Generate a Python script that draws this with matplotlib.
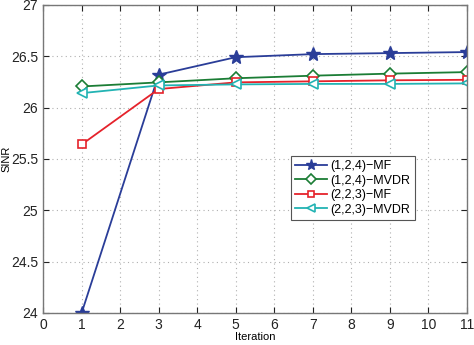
import matplotlib
matplotlib.use("Agg")
import matplotlib.pyplot as plt

iters = [1, 3, 5, 7, 9, 11]
mf_124 = [24.0, 26.32, 26.49, 26.52, 26.53, 26.54]
mvdr_124 = [26.205, 26.245, 26.285, 26.31, 26.33, 26.345]
mf_223 = [25.64, 26.18, 26.245, 26.255, 26.265, 26.27]
mvdr_223 = [26.14, 26.215, 26.225, 26.23, 26.23, 26.235]
labels = ["(1,2,4)\u2212MF", "(1,2,4)\u2212MVDR", "(2,2,3)\u2212MF", "(2,2,3)\u2212MVDR"]
xticks = list(range(0, 12))
yticks = [24, 24.5, 25, 25.5, 26, 26.5, 27]
ytick_labels = ["24", "24.5", "25", "25.5", "26", "26.5", "27"]

plt.rcParams['font.family'] = ['Liberation Sans', 'DejaVu Sans']
fig = plt.figure(figsize=(4.74, 3.45), dpi=100)
ax = fig.add_axes([0.091, 0.093, 0.894, 0.893])

ax.plot(iters, mf_124, color='#2a3d98', marker='*', markersize=10, lw=1.3, label=labels[0])
ax.plot(iters, mvdr_124, color='#1b7d35', marker='D', markersize=6, markerfacecolor='white', mew=1.2, lw=1.3, label=labels[1])
ax.plot(iters, mf_223, color='#e5222b', marker='s', markersize=6, markerfacecolor='white', mew=1.2, lw=1.3, label=labels[2])
ax.plot(iters, mvdr_223, color='#22b3b3', marker='<', markersize=7, markerfacecolor='white', mew=1.2, lw=1.3, label=labels[3])

ax.set_xlim(0, 11)
ax.set_ylim(24, 27)
ax.set_xticks(xticks)
ax.set_yticks(yticks)
ax.set_yticklabels(ytick_labels)
ax.grid(True, linestyle=(0, (1, 3)), color='#b0b0b0', lw=0.8)
ax.tick_params(direction='in', labelsize=10, colors='#222222', length=4, top=True, right=True)
for s in ax.spines.values():
    s.set_color('#777777')
    s.set_linewidth(1.0)
ax.set_xlabel('Iteration', fontsize=8, labelpad=0)
ax.set_ylabel('SINR', fontsize=8, labelpad=0)

leg = ax.legend(loc='upper right', bbox_to_anchor=(0.877, 0.51), fontsize=9,
                fancybox=False, edgecolor='#555555', framealpha=1, handlelength=2.5,
                borderpad=0.35, labelspacing=0.2, handletextpad=0.3, markerscale=0.8,
                borderaxespad=0)
leg.get_frame().set_linewidth(0.8)

fig.savefig('out.png', dpi=100)
